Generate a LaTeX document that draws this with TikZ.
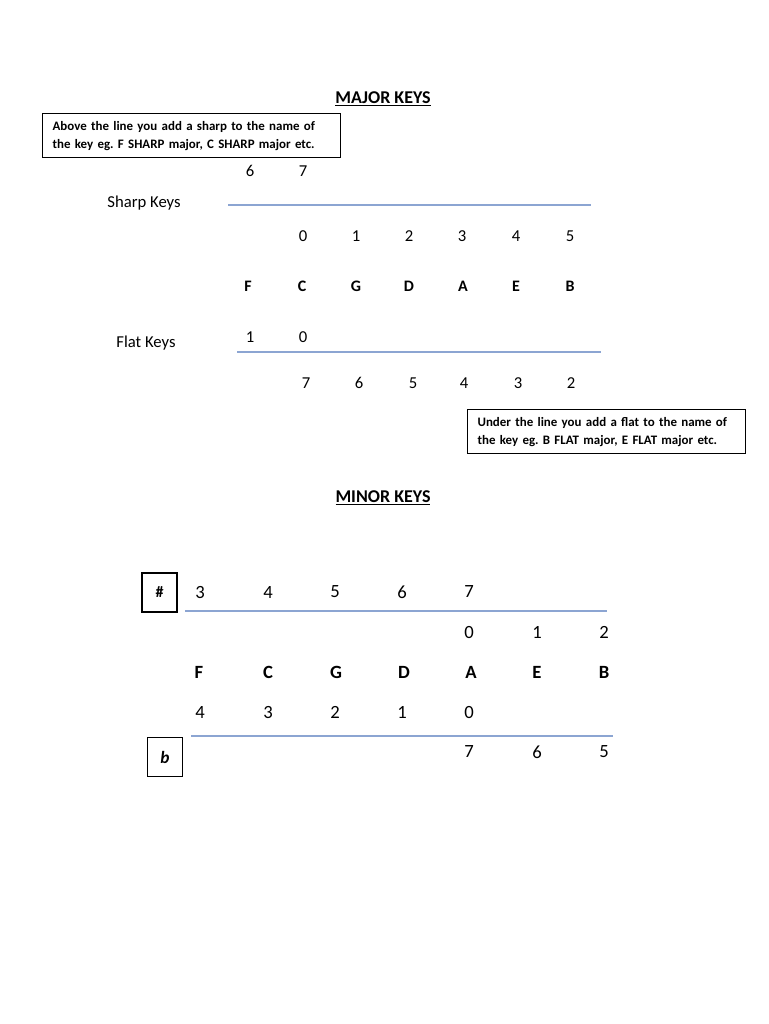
\documentclass[tikz,border=0pt]{standalone}
\usepackage{fontspec}
\setmainfont{Carlito}
\definecolor{lineblue}{RGB}{140,165,210}
\frenchspacing
\begin{document}
\begin{tikzpicture}[x=0.75pt,y=-0.75pt,
  title/.style={font=\fontsize{13.5}{15}\selectfont\bfseries},
  note/.style={draw=black,line width=0.9pt,align=left,inner xsep=7.5pt,inner ysep=5.5pt,font=\fontsize{9.7}{13.5}\selectfont\bfseries,anchor=north west,text width=#1},
  small/.style={font=\fontsize{12.5}{14}\selectfont},
  smallb/.style={font=\fontsize{12}{14}\selectfont\bfseries},
  big/.style={font=\fontsize{14}{16}\selectfont},
  bigb/.style={font=\fontsize{14}{16}\selectfont\bfseries},
  keyline/.style={draw=lineblue,line width=0.8pt},
  signbox/.style={draw=black,line width=0.9pt,minimum width=35*0.75pt,minimum height=39*0.75pt,inner sep=0pt}]
\fill[white] (0,0) rectangle (768,1024);
\useasboundingbox (0,0) rectangle (768,1024);

% Major keys
\node[title] (tmaj) at (383,99) {\underline{MAJOR KEYS}};
\node[note=278*0.75pt] (n1) at (42,113) {Above the line you add a sharp to the name of\\the key eg. F SHARP major, C SHARP major etc.};

\node[small] (s6) at (250,171) {6};
\node[small] (s7) at (303,171) {7};
\node[small] (sk) at (144,203) {Sharp Keys};
\coordinate (l1a) at (228,205);
\coordinate (l1b) at (591,205);
\draw[keyline] (l1a) -- (l1b);

\node[small] (s0) at (303,236) {0};
\node[small] (s1) at (356,236) {1};
\node[small] (s2) at (409,236) {2};
\node[small] (s3) at (462,236) {3};
\node[small] (s4) at (516,236) {4};
\node[small] (s5) at (570,236) {5};

\node[smallb] (kF) at (248,286) {F};
\node[smallb] (kC) at (302,286) {C};
\node[smallb] (kG) at (356,286) {G};
\node[smallb] (kD) at (409,286) {D};
\node[smallb] (kA) at (463,286) {A};
\node[smallb] (kE) at (516,286) {E};
\node[smallb] (kB) at (570,286) {B};

\node[small] (fk) at (146,343) {Flat Keys};
\node[small] (f1) at (250,337) {1};
\node[small] (f0) at (303,337) {0};
\coordinate (l2a) at (237,352);
\coordinate (l2b) at (601,352);
\draw[keyline] (l2a) -- (l2b);

\node[small] (f7) at (306,383) {7};
\node[small] (f6) at (359,383) {6};
\node[small] (f5) at (413,383) {5};
\node[small] (f4) at (464,383) {4};
\node[small] (f3) at (518,383) {3};
\node[small] (f2) at (571,383) {2};

\node[note=258*0.75pt] (n2) at (467,409) {Under the line you add a flat to the name of\\the key eg. B FLAT major, E FLAT major etc.};

% Minor keys
\node[title] (tmin) at (383,498) {\underline{MINOR KEYS}};

\node[signbox,font=\fontsize{12}{14}\selectfont\bfseries] (sharp) at (159.5,592.5) {\#};
\node[big] (m3) at (200,592) {3};
\node[big] (m4) at (268,592) {4};
\node[big] (m5) at (335,592) {5};
\node[big] (m6) at (402,592) {6};
\node[big] (m7) at (469,592) {7};
\coordinate (l3a) at (185,611);
\coordinate (l3b) at (607,611);
\draw[keyline] (l3a) -- (l3b);

\node[big] (m0) at (469,632) {0};
\node[big] (m1) at (537,632) {1};
\node[big] (m2) at (604,632) {2};

\node[bigb] (mF) at (199,672) {F};
\node[bigb] (mC) at (268,672) {C};
\node[bigb] (mG) at (336,672) {G};
\node[bigb] (mD) at (404,672) {D};
\node[bigb] (mA) at (471,672) {A};
\node[bigb] (mE) at (537,672) {E};
\node[bigb] (mB) at (604,672) {B};

\node[big] (q4) at (200,712) {4};
\node[big] (q3) at (268,712) {3};
\node[big] (q2) at (335,712) {2};
\node[big] (q1) at (402,712) {1};
\node[big] (q0) at (469,712) {0};
\coordinate (l4a) at (191,736);
\coordinate (l4b) at (613,736);
\draw[keyline] (l4a) -- (l4b);

\node[signbox,font=\fontsize{13}{15}\selectfont\bfseries\itshape] (flat) at (165,757) {b};
\node[big] (q7) at (469,752) {7};
\node[big] (q6) at (537,752) {6};
\node[big] (q5) at (604,752) {5};
\end{tikzpicture}
\end{document}
